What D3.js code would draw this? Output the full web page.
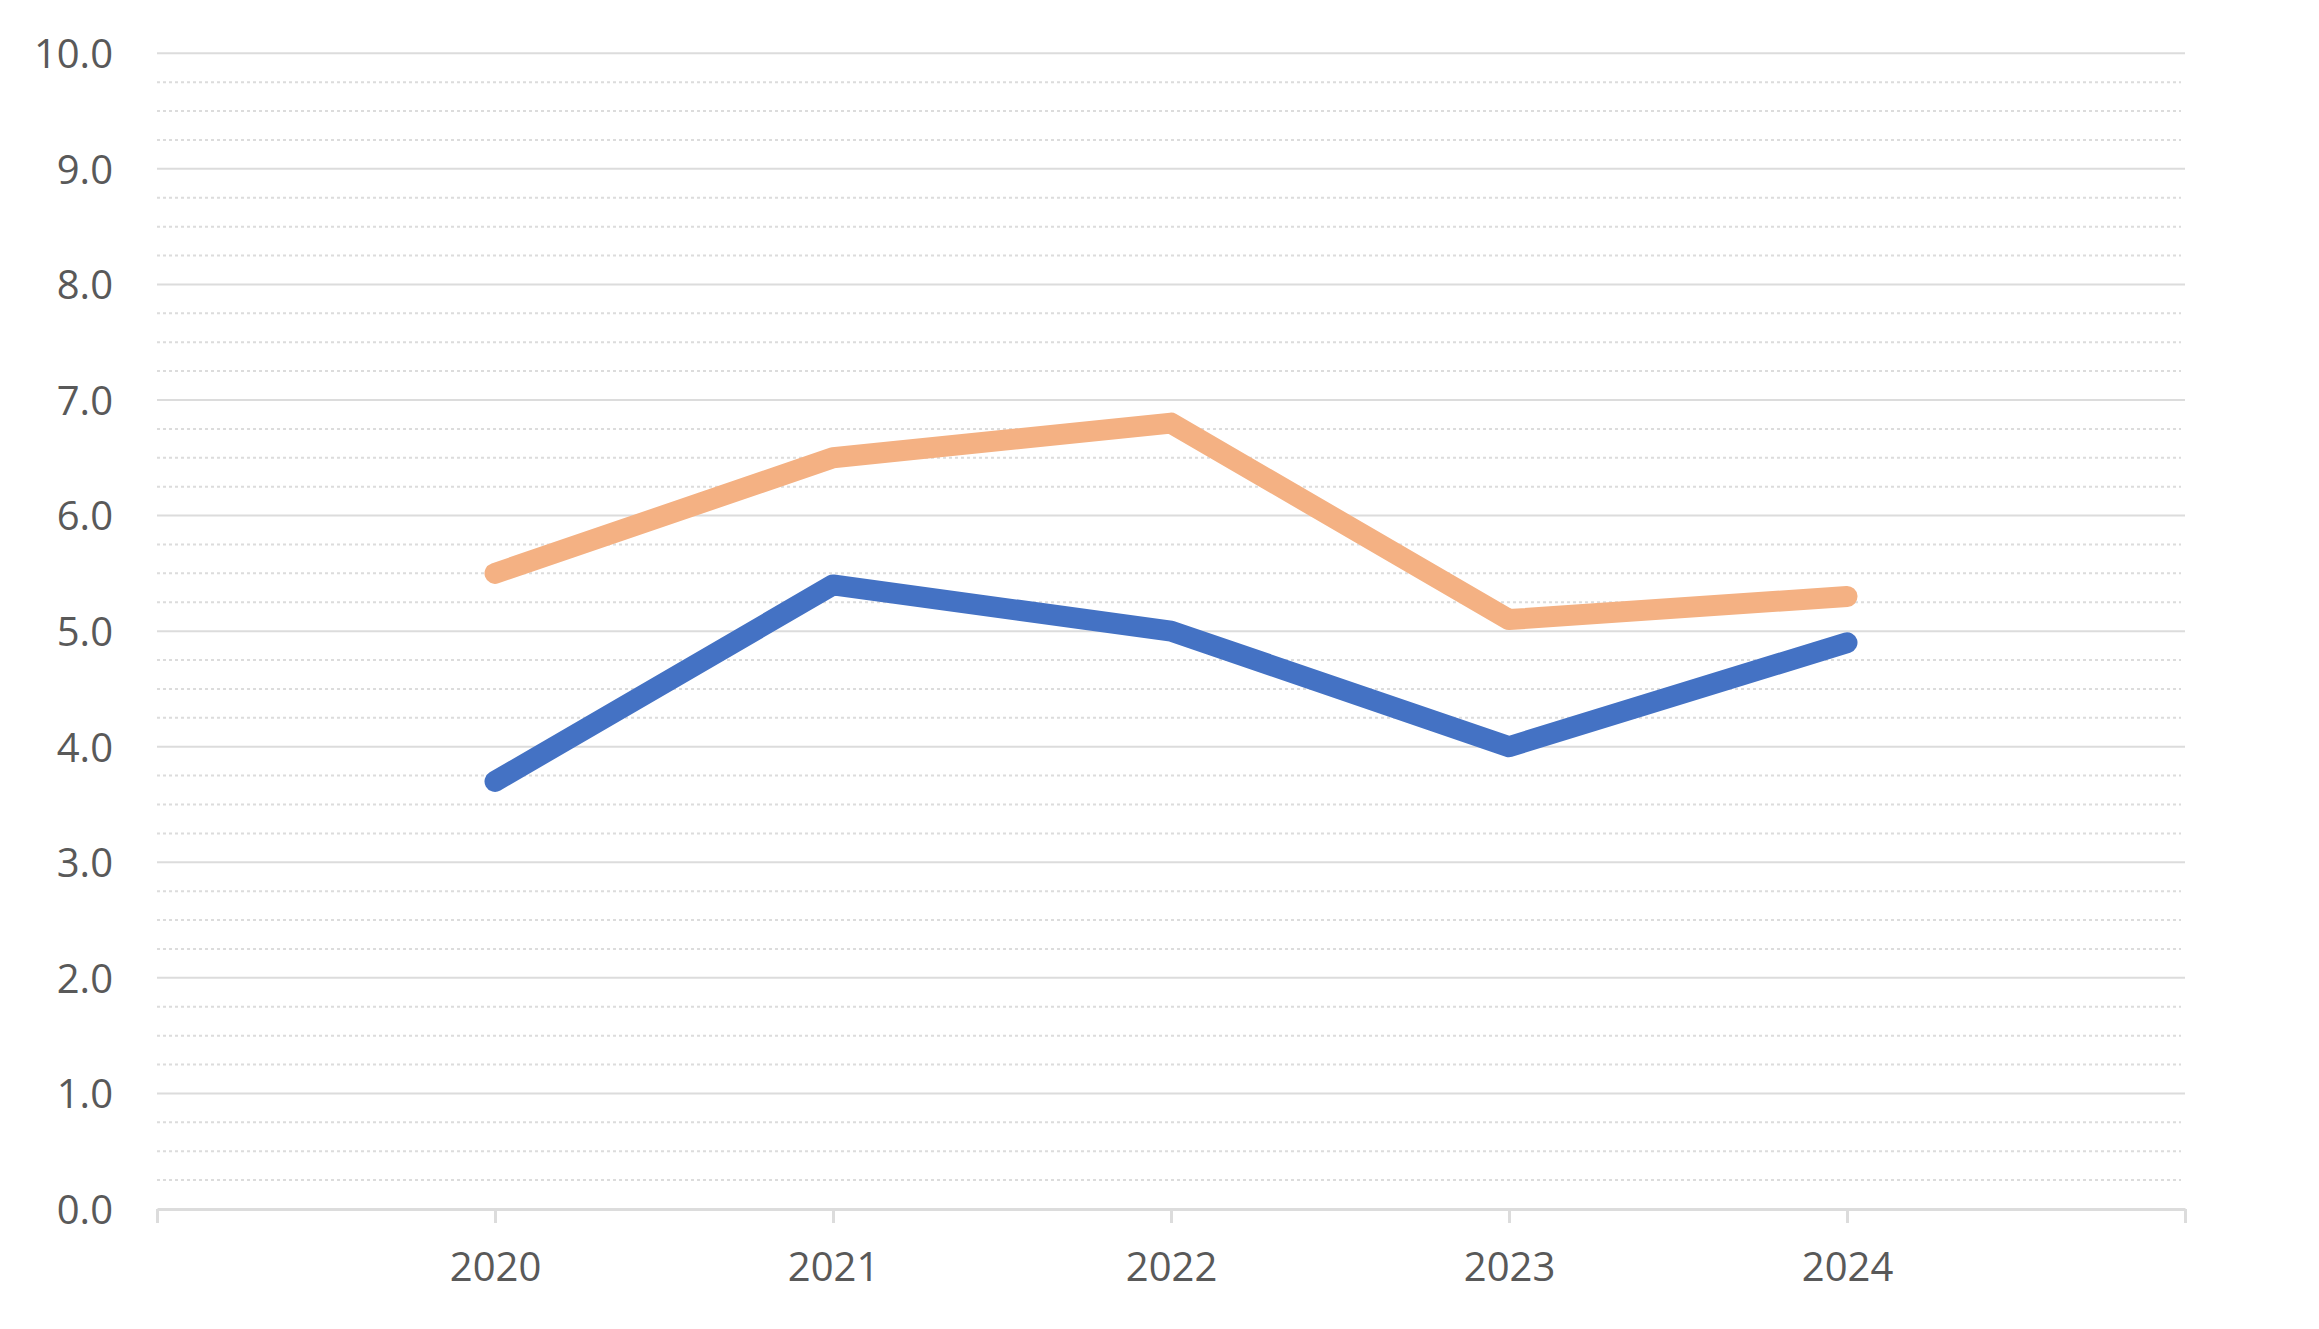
<!DOCTYPE html>
<html>
<head>
<meta charset="utf-8">
<script src="https://cdn.jsdelivr.net/npm/d3@7"></script>
<style>
  html, body { margin: 0; padding: 0; background: #ffffff; }
  svg { display: block; }
</style>
</head>
<body>
<svg id="chart" width="2319" height="1329"></svg>
<script>
const years = [2020, 2021, 2022, 2023, 2024];
const seriesBlue = [3.7, 5.4, 5.0, 4.0, 4.9];
const seriesOrange = [5.5, 6.5, 6.8, 5.1, 5.3];
const yTickValues = [0, 1, 2, 3, 4, 5, 6, 7, 8, 9, 10];
const yMinorValues = d3.range(0.25, 10, 0.25).filter(v => Math.abs(v - Math.round(v)) > 1e-6);

(function () {
const svg = d3.select("#chart");
const plotLeft = 157, plotRight = 2185, plotTop = 53.3, plotBottom = 1209;

const x = d3.scaleLinear().domain([2019, 2025]).range([plotLeft, plotRight]);
const y = d3.scaleLinear().domain([0, 10]).range([plotBottom, plotTop]);

const grid = "#dcdcdc";
const textColor = "#595959";
const font = "'Open Sans', sans-serif";

// minor dotted gridlines
svg.append("g").selectAll("line").data(yMinorValues).join("line")
  .attr("x1", plotLeft).attr("x2", plotRight - 4)
  .attr("y1", d => y(d)).attr("y2", d => y(d))
  .attr("stroke", grid).attr("stroke-width", 2)
  .attr("stroke-dasharray", "3,3");

// major gridlines
svg.append("g").selectAll("line").data(yTickValues.filter(v => v > 0)).join("line")
  .attr("x1", plotLeft).attr("x2", plotRight)
  .attr("y1", d => y(d)).attr("y2", d => y(d))
  .attr("stroke", grid).attr("stroke-width", 2);

// y axis labels
const yAxis = d3.axisLeft(y).tickValues(yTickValues).tickFormat(d3.format(".1f")).tickSize(0).tickPadding(0);
const gy = svg.append("g").attr("transform", "translate(113,0)").call(yAxis);
gy.select(".domain").remove();
gy.selectAll("text")
  .attr("font-family", font).attr("font-size", 40).attr("fill", textColor)
  .attr("dy", "0.36em");

// x axis
const xAxis = d3.axisBottom(x).tickValues([2019, ...years, 2025])
  .tickFormat(d => years.includes(d) ? String(d) : "")
  .tickSizeInner(14).tickSizeOuter(0).tickPadding(30);
const gx = svg.append("g").attr("transform", `translate(0,${plotBottom})`).call(xAxis);
gx.select(".domain").attr("stroke", grid).attr("stroke-width", 3);
gx.selectAll(".tick line").attr("stroke", grid).attr("stroke-width", 3);
gx.selectAll("text")
  .attr("font-family", font).attr("font-size", 40).attr("fill", textColor);

// lines
const line = d3.line().x((d, i) => x(years[i])).y(d => y(d));
svg.append("path").datum(seriesOrange)
  .attr("d", line).attr("fill", "none")
  .attr("stroke", "#F4B183").attr("stroke-width", 21)
  .attr("stroke-linejoin", "round").attr("stroke-linecap", "round");
svg.append("path").datum(seriesBlue)
  .attr("d", line).attr("fill", "none")
  .attr("stroke", "#4472C4").attr("stroke-width", 21)
  .attr("stroke-linejoin", "round").attr("stroke-linecap", "round");
})();
</script>
</body>
</html>
